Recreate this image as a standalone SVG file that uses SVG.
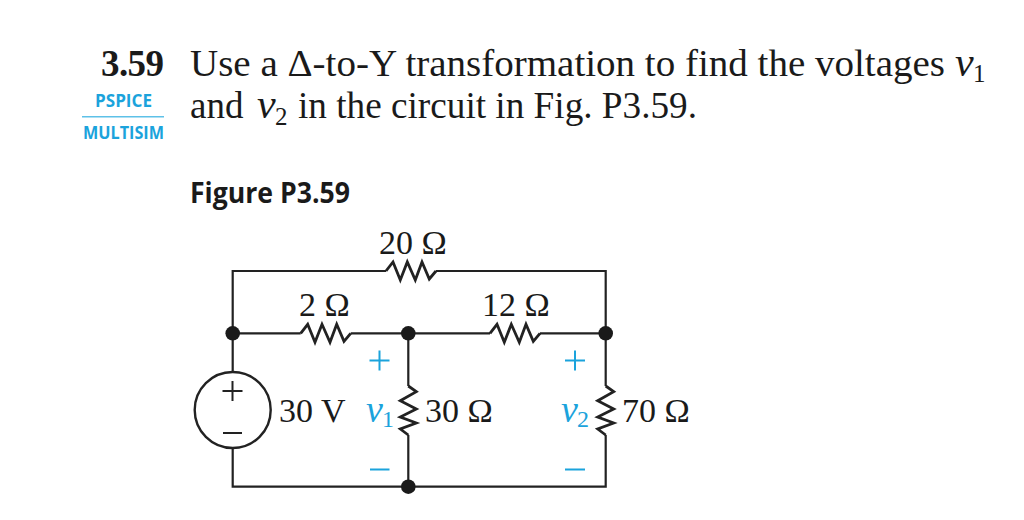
<svg xmlns="http://www.w3.org/2000/svg" width="1024" height="520" viewBox="0 0 1024 520">
<style>
text{font-family:"Liberation Serif","Times New Roman",serif;fill:#1a1a1a}
.body{font-size:37px}
.lab{font-size:34px}
.sans{font-family:"Open Sans","Liberation Sans",sans-serif;font-weight:700;fill:#1ba3dc}
.blue{fill:#1ba3dc}
.it{font-style:italic}
.wire{fill:none;stroke:#222;stroke-width:2.200;stroke-linejoin:miter}
.res{fill:none;stroke:#222;stroke-width:2.800;stroke-linejoin:miter}
.dot{fill:#1a1a1a}
.sign{fill:none;stroke:#222;stroke-width:2}
.bsign{fill:none;stroke:#1ba3dc;stroke-width:2}
</style>
<defs>
<path id="rh" d="M0 0L7 -9L14.300 9L21.300 -9L29.300 9L36 -9L43.300 8L50 0" class="res"/>
<path id="rv" d="M0 0L8 5.700L-8 14.700L8 23L-8 31L8 37L-8 43L0 49" class="res"/>
</defs>
<g id="heading">
<text x="101" y="76" style="font-size:37px;font-weight:700;letter-spacing:-0.600px">3.59</text>
<text class="body" x="190" y="76" textLength="755" lengthAdjust="spacingAndGlyphs">Use a Δ-to-Y transformation to find the voltages</text>
<text class="body it" x="955" y="76" style="font-size:42px">v</text>
<text x="973" y="82" font-size="25">1</text>
<text class="body" x="190" y="118">and</text>
<text class="body it" x="257" y="118" style="font-size:42px">v</text>
<text x="275" y="125" font-size="25">2</text>
<text class="body" x="298" y="118" textLength="399" lengthAdjust="spacingAndGlyphs">in the circuit in Fig. P3.59.</text>
<text class="sans" x="95" y="107" font-size="17" textLength="57" lengthAdjust="spacingAndGlyphs">PSPICE</text>
<rect x="82" y="116" width="82" height="1.500" fill="#5ec1e8"/>
<text class="sans" x="83" y="139" font-size="17" textLength="81" lengthAdjust="spacingAndGlyphs">MULTISIM</text>
<text x="190" y="203" font-size="29" style="font-family:'Open Sans','Liberation Sans',sans-serif;font-weight:700" textLength="160" lengthAdjust="spacingAndGlyphs">Figure P3.59</text>
</g>
<g id="connectors">
<path class="wire" d="M232.700 372V271H386M436 271H605.700V333.300"/>
<path class="wire" d="M605.700 333.300V386M605.700 435V486.700H232.700V448"/>
<path class="wire" d="M232.700 333.300H300.700M350.700 333.300H490M540 333.300H605.700"/>
<path class="wire" d="M408.300 333.300V386M408.300 435V486.700"/>
</g>
<g id="r20"><use href="#rh" x="386" y="271"/><text class="lab" x="379" y="254">20 Ω</text></g>
<g id="r2"><use href="#rh" x="300.700" y="333.300"/><text class="lab" x="299" y="316">2 Ω</text></g>
<g id="r12"><use href="#rh" x="490" y="333.300"/><text class="lab" x="482" y="316">12 Ω</text></g>
<g id="r30"><use href="#rv" x="408.300" y="386"/><text class="lab" x="425" y="422">30 Ω</text></g>
<g id="r70"><use href="#rv" x="605.700" y="386"/><text class="lab" x="622" y="422">70 Ω</text></g>
<g id="source">
<circle cx="232.700" cy="410" r="38" fill="#fff" stroke="#222" stroke-width="2.400"/>
<path class="sign" d="M222.500 391H242.500M232.500 381V401M223 433H242"/>
<text class="lab" x="279" y="422">30 V</text>
</g>
<g id="v1">
<path class="bsign" d="M369.500 360.500H389.500M379.500 350.500V370.500M370 469.500H389.500"/>
<text class="it blue" x="366" y="422" font-size="38">v</text><text class="blue" x="382" y="427" font-size="24">1</text>
</g>
<g id="v2">
<path class="bsign" d="M565 360.500H585M575 350.500V370.500M565 469.500H585"/>
<text class="it blue" x="561" y="422" font-size="38">v</text><text class="blue" x="577" y="427" font-size="24">2</text>
</g>
<g id="nodes">
<circle id="n1" class="dot" cx="232.700" cy="333.300" r="7.300"/>
<circle id="n2" class="dot" cx="408.300" cy="333.300" r="7.300"/>
<circle id="n3" class="dot" cx="605.700" cy="333.300" r="7.300"/>
<circle id="n4" class="dot" cx="408.300" cy="486.700" r="7.300"/>
</g>
</svg>
